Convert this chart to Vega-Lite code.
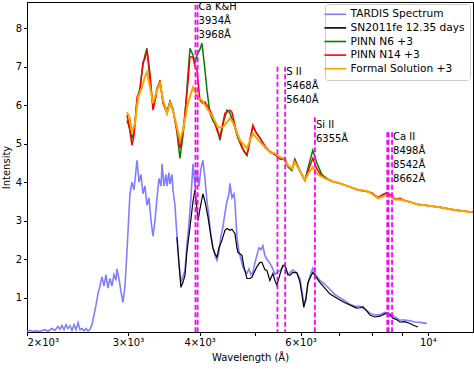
{
  "$schema": "https://vega.github.io/schema/vega-lite/v6.json",
  "width": 446,
  "height": 330,
  "autosize": "none",
  "padding": {"left": 27, "top": 2, "right": 1, "bottom": 37},
  "config": {
    "font": "DejaVu Sans",
    "view": {"stroke": "#000", "strokeWidth": 1},
    "axis": {"grid": false, "domainColor": "#000", "tickColor": "#000", "tickSize": 3.5, "labelFontSize": 10, "labelColor": "#000", "titleFontSize": 10, "titleFontWeight": "normal", "titleColor": "#000", "labelPadding": 2},
    "legend": {"labelFontSize": 10.6, "labelColor": "#000", "labelFont": "DejaVu Sans", "symbolSize": 60, "rowPadding": 2.6}
  },
  "datasets": {
    "tardis": [
      {"w":2000,"v":0.13},{"w":2024,"v":0.15},{"w":2049,"v":0.12},{"w":2074,"v":0.14},{"w":2107,"v":0.13},{"w":2150,"v":0.17},{"w":2176,"v":0.13},{"w":2211,"v":0.2},{"w":2237,"v":0.15},{"w":2264,"v":0.25},{"w":2283,"v":0.18},{"w":2301,"v":0.28},{"w":2320,"v":0.17},{"w":2339,"v":0.3},{"w":2357,"v":0.2},{"w":2377,"v":0.27},{"w":2396,"v":0.15},{"w":2416,"v":0.3},{"w":2435,"v":0.17},{"w":2455,"v":0.35},{"w":2474,"v":0.17},{"w":2494,"v":0.2},{"w":2514,"v":0.14},{"w":2535,"v":0.2},{"w":2555,"v":0.13},{"w":2575,"v":0.18},{"w":2596,"v":0.3},{"w":2617,"v":0.55},{"w":2638,"v":0.8},{"w":2659,"v":1.1},{"w":2681,"v":1.3},{"w":2702,"v":1.55},{"w":2724,"v":1.3},{"w":2746,"v":1.6},{"w":2768,"v":1.25},{"w":2791,"v":1.5},{"w":2813,"v":1.3},{"w":2836,"v":1.6},{"w":2859,"v":1.45},{"w":2870,"v":1.75},{"w":2893,"v":1.5},{"w":2917,"v":1.15},{"w":2940,"v":0.88},{"w":2964,"v":1.3},{"w":2988,"v":2.2},{"w":3012,"v":3.2},{"w":3024,"v":3.7},{"w":3048,"v":4.0},{"w":3073,"v":3.8},{"w":3098,"v":4.3},{"w":3111,"v":4.57},{"w":3136,"v":4.0},{"w":3161,"v":4.2},{"w":3186,"v":3.7},{"w":3212,"v":3.9},{"w":3238,"v":3.4},{"w":3264,"v":3.6},{"w":3291,"v":3.0},{"w":3317,"v":2.6},{"w":3344,"v":3.0},{"w":3371,"v":3.6},{"w":3398,"v":4.1},{"w":3426,"v":3.9},{"w":3440,"v":4.48},{"w":3467,"v":3.9},{"w":3495,"v":4.2},{"w":3509,"v":3.9},{"w":3537,"v":4.25},{"w":3551,"v":3.95},{"w":3580,"v":4.2},{"w":3594,"v":3.8},{"w":3623,"v":3.4},{"w":3652,"v":2.6},{"w":3681,"v":1.9},{"w":3711,"v":1.4},{"w":3741,"v":1.55},{"w":3771,"v":1.7},{"w":3802,"v":2.4},{"w":3832,"v":2.9},{"w":3863,"v":3.6},{"w":3895,"v":4.48},{"w":3926,"v":3.9},{"w":3958,"v":4.3},{"w":3990,"v":3.9},{"w":4021,"v":4.35},{"w":4053,"v":4.57},{"w":4087,"v":4.1},{"w":4120,"v":3.5},{"w":4153,"v":3.1},{"w":4186,"v":2.6},{"w":4219,"v":2.3},{"w":4254,"v":2.1},{"w":4288,"v":1.97},{"w":4323,"v":2.2},{"w":4358,"v":2.6},{"w":4393,"v":2.85},{"w":4428,"v":3.2},{"w":4464,"v":3.5},{"w":4500,"v":3.7},{"w":4518,"v":3.97},{"w":4554,"v":3.6},{"w":4591,"v":3.7},{"w":4609,"v":3.5},{"w":4646,"v":2.6},{"w":4684,"v":2.2},{"w":4722,"v":2.0},{"w":4760,"v":1.8},{"w":4798,"v":1.7},{"w":4837,"v":1.63},{"w":4876,"v":1.75},{"w":4915,"v":1.6},{"w":4954,"v":1.65},{"w":4994,"v":1.9},{"w":5034,"v":2.1},{"w":5075,"v":2.3},{"w":5116,"v":2.25},{"w":5157,"v":2.35},{"w":5198,"v":2.1},{"w":5240,"v":2.0},{"w":5304,"v":1.9},{"w":5368,"v":1.75},{"w":5411,"v":1.6},{"w":5455,"v":1.65},{"w":5521,"v":1.7},{"w":5588,"v":1.8},{"w":5633,"v":1.85},{"w":5701,"v":1.6},{"w":5747,"v":1.65},{"w":5817,"v":1.72},{"w":5910,"v":1.65},{"w":5982,"v":1.5},{"w":6030,"v":1.2},{"w":6078,"v":0.85},{"w":6127,"v":0.95},{"w":6177,"v":1.35},{"w":6227,"v":1.55},{"w":6302,"v":1.77},{"w":6378,"v":1.6},{"w":6482,"v":1.45},{"w":6613,"v":1.35},{"w":6747,"v":1.22},{"w":6887,"v":1.08},{"w":7026,"v":1.0},{"w":7169,"v":0.92},{"w":7314,"v":0.83},{"w":7462,"v":0.78},{"w":7613,"v":0.78},{"w":7769,"v":0.7},{"w":7926,"v":0.6},{"w":8086,"v":0.55},{"w":8250,"v":0.56},{"w":8417,"v":0.62},{"w":8588,"v":0.58},{"w":8763,"v":0.5},{"w":8941,"v":0.42},{"w":9122,"v":0.42},{"w":9307,"v":0.4},{"w":9495,"v":0.37},{"w":9687,"v":0.36},{"w":9886,"v":0.34},{"w":9966,"v":0.33}
    ],
    "sn": [
      {"w":3652,"v":2.57},{"w":3681,"v":1.9},{"w":3711,"v":1.27},{"w":3741,"v":1.4},{"w":3771,"v":1.58},{"w":3802,"v":2.2},{"w":3848,"v":2.83},{"w":3895,"v":3.5},{"w":3926,"v":3.8},{"w":3958,"v":3.3},{"w":3974,"v":3.0},{"w":4005,"v":3.3},{"w":4053,"v":3.7},{"w":4087,"v":3.5},{"w":4136,"v":3.1},{"w":4186,"v":2.6},{"w":4219,"v":2.3},{"w":4254,"v":2.15},{"w":4288,"v":2.05},{"w":4323,"v":2.3},{"w":4375,"v":2.49},{"w":4428,"v":2.75},{"w":4464,"v":2.8},{"w":4518,"v":2.75},{"w":4554,"v":2.78},{"w":4609,"v":2.67},{"w":4646,"v":2.3},{"w":4665,"v":2.18},{"w":4741,"v":2.1},{"w":4779,"v":1.8},{"w":4837,"v":1.5},{"w":4895,"v":1.5},{"w":4934,"v":1.53},{"w":4994,"v":1.7},{"w":5034,"v":1.8},{"w":5095,"v":1.92},{"w":5136,"v":1.92},{"w":5198,"v":1.73},{"w":5240,"v":1.71},{"w":5304,"v":1.45},{"w":5368,"v":1.63},{"w":5411,"v":1.45},{"w":5455,"v":1.32},{"w":5521,"v":1.6},{"w":5588,"v":1.84},{"w":5633,"v":1.84},{"w":5701,"v":1.6},{"w":5747,"v":1.58},{"w":5817,"v":1.66},{"w":5910,"v":1.65},{"w":5982,"v":1.42},{"w":6030,"v":1.1},{"w":6078,"v":0.75},{"w":6127,"v":0.95},{"w":6177,"v":1.38},{"w":6227,"v":1.5},{"w":6302,"v":1.66},{"w":6378,"v":1.55},{"w":6482,"v":1.4},{"w":6613,"v":1.25},{"w":6747,"v":1.1},{"w":6887,"v":1.02},{"w":7026,"v":0.94},{"w":7169,"v":0.87},{"w":7314,"v":0.81},{"w":7462,"v":0.75},{"w":7522,"v":0.73},{"w":7613,"v":0.74},{"w":7705,"v":0.77},{"w":7832,"v":0.65},{"w":7926,"v":0.55},{"w":8086,"v":0.5},{"w":8250,"v":0.52},{"w":8417,"v":0.58},{"w":8485,"v":0.6},{"w":8588,"v":0.55},{"w":8692,"v":0.47},{"w":8834,"v":0.43},{"w":8941,"v":0.37},{"w":9122,"v":0.38},{"w":9307,"v":0.33},{"w":9420,"v":0.29},{"w":9533,"v":0.26},{"w":9610,"v":0.24}
    ],
    "n6": [
      {"w":2988,"v":5.6},{"w":3012,"v":5.45},{"w":3048,"v":5.15},{"w":3073,"v":5.3},{"w":3111,"v":6.1},{"w":3148,"v":6.45},{"w":3186,"v":7.05},{"w":3212,"v":7.3},{"w":3238,"v":7.48},{"w":3277,"v":6.65},{"w":3317,"v":5.96},{"w":3344,"v":6.15},{"w":3371,"v":6.45},{"w":3412,"v":6.6},{"w":3453,"v":6.1},{"w":3509,"v":5.85},{"w":3551,"v":6.1},{"w":3594,"v":5.9},{"w":3652,"v":5.3},{"w":3696,"v":4.62},{"w":3741,"v":5.2},{"w":3771,"v":5.7},{"w":3817,"v":6.8},{"w":3848,"v":7.48},{"w":3895,"v":7.3},{"w":3926,"v":7.09},{"w":3958,"v":7.3},{"w":4005,"v":7.45},{"w":4037,"v":7.61},{"w":4087,"v":6.91},{"w":4120,"v":6.39},{"w":4169,"v":5.79},{"w":4219,"v":5.6},{"w":4288,"v":5.43},{"w":4340,"v":5.09},{"w":4410,"v":5.6},{"w":4464,"v":5.87},{"w":4518,"v":5.8},{"w":4591,"v":5.5},{"w":4665,"v":5.15},{"w":4741,"v":4.9},{"w":4837,"v":4.7},{"w":4895,"v":5.05},{"w":4954,"v":5.45},{"w":5014,"v":5.3},{"w":5095,"v":5.15},{"w":5198,"v":4.9},{"w":5304,"v":4.78},{"w":5411,"v":4.72},{"w":5521,"v":4.6},{"w":5633,"v":4.58},{"w":5701,"v":4.4},{"w":5793,"v":4.3},{"w":5863,"v":4.6},{"w":5982,"v":4.3},{"w":6103,"v":4.05},{"w":6202,"v":4.45},{"w":6302,"v":4.83},{"w":6404,"v":4.5},{"w":6534,"v":4.2},{"w":6666,"v":4.1},{"w":6829,"v":4.02},{"w":7026,"v":3.97},{"w":7314,"v":3.88},{"w":7552,"v":3.8},{"w":7832,"v":3.77},{"w":7990,"v":3.71},{"w":8184,"v":3.59},{"w":8350,"v":3.67},{"w":8485,"v":3.72},{"w":8623,"v":3.65},{"w":8763,"v":3.56},{"w":8941,"v":3.56},{"w":9122,"v":3.52},{"w":9307,"v":3.49},{"w":9571,"v":3.43},{"w":9886,"v":3.4},{"w":10496,"v":3.35},{"w":11147,"v":3.28},{"w":11986,"v":3.22}
    ],
    "n14": [
      {"w":2988,"v":5.75},{"w":3012,"v":5.5},{"w":3048,"v":4.96},{"w":3073,"v":5.2},{"w":3111,"v":6.2},{"w":3148,"v":6.39},{"w":3186,"v":7.12},{"w":3212,"v":7.2},{"w":3238,"v":7.43},{"w":3277,"v":6.83},{"w":3317,"v":5.87},{"w":3344,"v":6.1},{"w":3371,"v":6.39},{"w":3412,"v":6.65},{"w":3453,"v":6.05},{"w":3509,"v":5.79},{"w":3551,"v":6.08},{"w":3594,"v":5.87},{"w":3652,"v":5.35},{"w":3696,"v":4.88},{"w":3741,"v":5.3},{"w":3771,"v":5.79},{"w":3817,"v":6.6},{"w":3848,"v":7.25},{"w":3895,"v":7.25},{"w":3926,"v":7.0},{"w":3958,"v":6.91},{"w":4005,"v":6.13},{"w":4053,"v":6.05},{"w":4087,"v":6.08},{"w":4169,"v":5.87},{"w":4219,"v":5.7},{"w":4288,"v":5.35},{"w":4340,"v":5.17},{"w":4428,"v":5.79},{"w":4518,"v":5.87},{"w":4554,"v":5.82},{"w":4646,"v":5.27},{"w":4703,"v":5.05},{"w":4779,"v":4.8},{"w":4837,"v":4.7},{"w":4895,"v":5.1},{"w":4954,"v":5.48},{"w":5014,"v":5.3},{"w":5095,"v":5.15},{"w":5198,"v":4.95},{"w":5304,"v":4.8},{"w":5411,"v":4.72},{"w":5521,"v":4.62},{"w":5633,"v":4.62},{"w":5701,"v":4.42},{"w":5793,"v":4.35},{"w":5863,"v":4.55},{"w":5982,"v":4.3},{"w":6103,"v":4.05},{"w":6202,"v":4.35},{"w":6302,"v":4.62},{"w":6404,"v":4.35},{"w":6534,"v":4.15},{"w":6666,"v":4.08},{"w":6829,"v":4.02},{"w":7026,"v":3.97},{"w":7314,"v":3.88},{"w":7552,"v":3.8},{"w":7832,"v":3.76},{"w":7990,"v":3.72},{"w":8184,"v":3.6},{"w":8350,"v":3.68},{"w":8485,"v":3.73},{"w":8623,"v":3.66},{"w":8763,"v":3.56},{"w":8941,"v":3.58},{"w":9122,"v":3.52},{"w":9307,"v":3.49},{"w":9571,"v":3.43},{"w":9886,"v":3.4},{"w":10496,"v":3.35},{"w":11147,"v":3.28},{"w":11986,"v":3.22}
    ],
    "formal": [
      {"w":2988,"v":5.82},{"w":3024,"v":5.66},{"w":3048,"v":5.3},{"w":3086,"v":5.53},{"w":3124,"v":6.2},{"w":3174,"v":6.47},{"w":3212,"v":6.75},{"w":3238,"v":6.86},{"w":3277,"v":6.47},{"w":3317,"v":6.05},{"w":3371,"v":6.39},{"w":3412,"v":6.57},{"w":3453,"v":6.13},{"w":3509,"v":5.79},{"w":3551,"v":6.05},{"w":3594,"v":5.87},{"w":3652,"v":5.43},{"w":3696,"v":5.09},{"w":3741,"v":5.35},{"w":3817,"v":6.05},{"w":3895,"v":6.47},{"w":3974,"v":6.2},{"w":4037,"v":6.13},{"w":4120,"v":5.92},{"w":4219,"v":5.69},{"w":4305,"v":5.43},{"w":4393,"v":5.43},{"w":4518,"v":5.66},{"w":4573,"v":5.55},{"w":4646,"v":5.3},{"w":4703,"v":5.09},{"w":4837,"v":4.88},{"w":4954,"v":5.27},{"w":5095,"v":5.04},{"w":5198,"v":4.92},{"w":5304,"v":4.78},{"w":5411,"v":4.75},{"w":5521,"v":4.65},{"w":5633,"v":4.6},{"w":5701,"v":4.44},{"w":5793,"v":4.35},{"w":5863,"v":4.52},{"w":5982,"v":4.3},{"w":6103,"v":4.05},{"w":6202,"v":4.25},{"w":6302,"v":4.39},{"w":6430,"v":4.2},{"w":6613,"v":4.1},{"w":6829,"v":4.02},{"w":7026,"v":3.97},{"w":7314,"v":3.88},{"w":7552,"v":3.8},{"w":7832,"v":3.77},{"w":7990,"v":3.7},{"w":8184,"v":3.58},{"w":8350,"v":3.63},{"w":8485,"v":3.68},{"w":8623,"v":3.62},{"w":8763,"v":3.55},{"w":8941,"v":3.55},{"w":9122,"v":3.52},{"w":9307,"v":3.49},{"w":9571,"v":3.43},{"w":9886,"v":3.4},{"w":10496,"v":3.35},{"w":11147,"v":3.28},{"w":11986,"v":3.22}
    ],
    "lines": [
      {"w":3934,"top":9},{"w":3968,"top":9},{"w":5468,"top":7.0},{"w":5640,"top":7.0},{"w":6355,"top":5.69},{"w":8498,"top":5.3},{"w":8542,"top":5.3},{"w":8662,"top":5.3}
    ],
    "labels": [
      {"w":3968,"y":8.68,"t":"Ca K&H\n3934Å\n3968Å"},
      {"w":5640,"y":7.0,"t":"S II\n5468Å\n5640Å"},
      {"w":6355,"y":5.62,"t":"Si II\n6355Å"},
      {"w":8662,"y":5.3,"t":"Ca II\n8498Å\n8542Å\n8662Å"}
    ]
  },
  "encoding": {
    "x": {
      "field": "w", "type": "quantitative",
      "scale": {"type": "log", "domain": [2000, 11990], "nice": false},
      "axis": {
        "title": "Wavelength (Å)",
        "titlePadding": 5,
        "values": [2000, 3000, 4000, 5000, 6000, 7000, 8000, 9000, 10000],
        "labelExpr": "datum.value == 10000 ? '10⁴' : (indexof([2000,3000,4000,6000], datum.value) >= 0 ? (datum.value/1000) + '×10³' : '')"
      }
    }
  },
  "layer": [
    {
      "data": {"name": "tardis"},
      "mark": {"type": "line", "strokeWidth": 1.6, "clip": true},
      "encoding": {
        "y": {"field": "v", "type": "quantitative", "scale": {"domain": [0.11, 8.68], "nice": false, "zero": false}, "axis": {"title": "Intensity", "values": [1,2,3,4,5,6,7,8], "titlePadding": 4}},
        "color": {
          "datum": "TARDIS Spectrum",
          "scale": {"domain": ["TARDIS Spectrum", "SN2011fe 12.35 days", "PINN N6 +3", "PINN N14 +3", "Formal Solution +3"], "range": ["#8080ff", "#000000", "#008000", "#ff0000", "#ffa500"]},
          "legend": {"title": null, "orient": "none", "legendX": 298, "legendY": 2, "symbolType": "M-2.8,0H2.8", "symbolSize": 60, "symbolStrokeWidth": 1.6, "padding": 5, "strokeColor": "#cccccc", "fillColor": "#ffffff", "cornerRadius": 3, "rowPadding": 2.6, "labelOffset": 10}
        }
      }
    },
    {
      "data": {"name": "sn"},
      "mark": {"type": "line", "strokeWidth": 1.2, "clip": true},
      "encoding": {"y": {"field": "v", "type": "quantitative"}, "color": {"datum": "SN2011fe 12.35 days"}}
    },
    {
      "data": {"name": "n6"},
      "mark": {"type": "line", "strokeWidth": 1.5, "clip": true},
      "encoding": {"y": {"field": "v", "type": "quantitative"}, "color": {"datum": "PINN N6 +3"}}
    },
    {
      "data": {"name": "n14"},
      "mark": {"type": "line", "strokeWidth": 1.5, "clip": true},
      "encoding": {"y": {"field": "v", "type": "quantitative"}, "color": {"datum": "PINN N14 +3"}}
    },
    {
      "data": {"name": "formal"},
      "mark": {"type": "line", "strokeWidth": 2, "clip": true},
      "encoding": {"y": {"field": "v", "type": "quantitative"}, "color": {"datum": "Formal Solution +3"}}
    },
    {
      "data": {"name": "lines"},
      "mark": {"type": "rule", "color": "#ff00ff", "strokeWidth": 1.8, "strokeDash": [5, 2.5], "clip": true},
      "encoding": {"y": {"field": "top", "type": "quantitative"}, "y2": {"datum": 0}}
    },
    {
      "data": {"name": "labels"},
      "mark": {"type": "text", "align": "left", "baseline": "top", "lineBreak": "\n", "lineHeight": 14, "fontSize": 10, "dx": 1, "color": "#000"},
      "encoding": {"y": {"field": "y", "type": "quantitative"}, "text": {"field": "t"}}
    }
  ]
}
